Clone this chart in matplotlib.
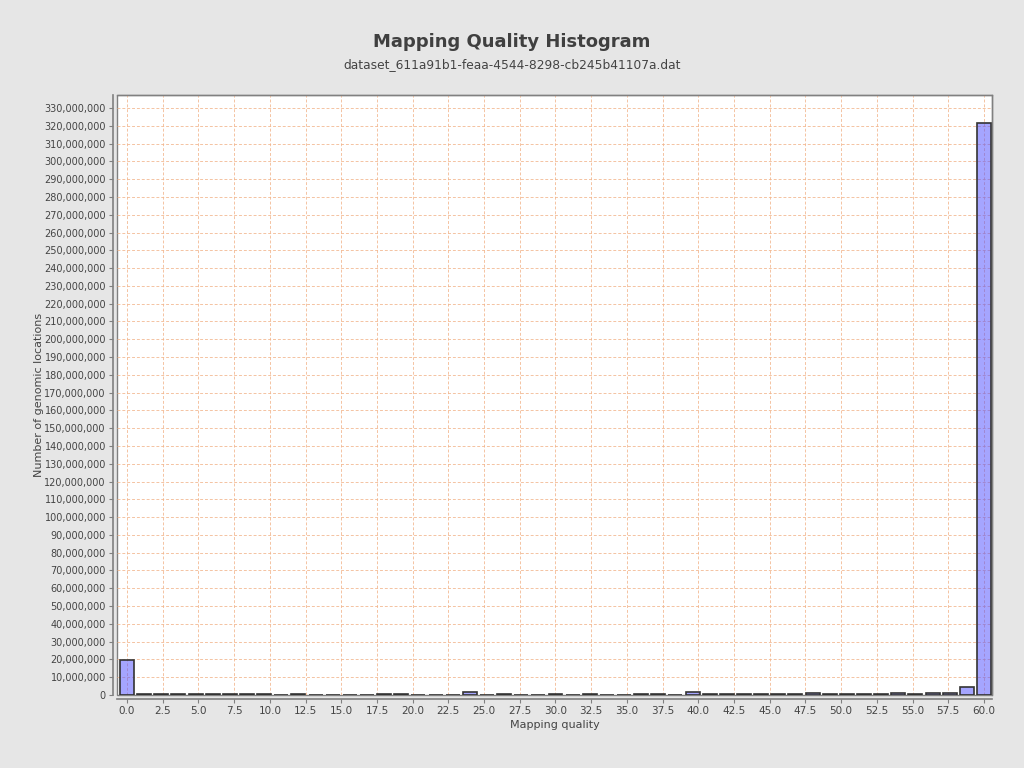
import matplotlib
matplotlib.use("Agg")
import matplotlib.pyplot as plt
from matplotlib.ticker import MultipleLocator, FuncFormatter


# bin positions (mapping quality) and counts in millions
mq_bins = [0.0, 1.2, 2.4, 3.6, 4.8, 6.0, 7.2, 8.4, 9.6, 10.8,
           12.0, 13.2, 14.4, 15.6, 16.8, 18.0, 19.2, 20.4, 21.6, 22.8,
           24.0, 25.2, 26.4, 27.6, 28.8, 30.0, 31.2, 32.4, 33.6, 34.8,
           36.0, 37.2, 38.4, 39.6, 40.8, 42.0, 43.2, 44.4, 45.6, 46.8,
           48.0, 49.2, 50.4, 51.6, 52.8, 54.0, 55.2, 56.4, 57.6, 58.8,
           60.0]
counts_m = [19.7, 0.8, 0.8, 0.8, 0.8, 0.8, 0.8, 0.8, 0.8, 0.1,
            0.8, 0.1, 0.1, 0.1, 0.1, 0.8, 0.8, 0.1, 0.1, 0.1,
            1.5, 0.1, 0.8, 0.1, 0.1, 0.8, 0.1, 0.8, 0.1, 0.1,
            0.8, 0.8, 0.1, 1.5, 0.8, 0.8, 0.8, 0.8, 0.8, 0.8,
            1.3, 0.8, 0.8, 0.8, 0.8, 1.3, 0.8, 1.3, 1.3, 4.4,
            321.5]

title = "Mapping Quality Histogram"
subtitle = "dataset_611a91b1-feaa-4544-8298-cb245b41107a.dat"

counts = [c * 1e6 for c in counts_m]

BG = '#e6e6e6'
TXT = '#444444'

fig = plt.figure(figsize=(10.24, 7.68), dpi=100, facecolor=BG)
ax = fig.add_axes([117 / 1024, 1 - 695 / 768, (992 - 117) / 1024, (695 - 95) / 768])
ax.set_facecolor('white')

ax.bar(mq_bins, counts, width=0.98, color=(0.3, 0.3, 1.0, 0.5),
       edgecolor='#333333', linewidth=1.2, zorder=3)

ax.set_xlim(-0.7, 60.56)
ax.set_ylim(0, 337.3e6)

ax.xaxis.set_major_locator(MultipleLocator(2.5))
ax.yaxis.set_major_locator(MultipleLocator(10e6))
ax.xaxis.set_major_formatter(FuncFormatter(lambda v, p: "%.1f" % v))
ax.yaxis.set_major_formatter(FuncFormatter(lambda v, p: "{:,}".format(int(round(v)))))

ax.set_axisbelow(True)
ax.grid(True, color='#f2b48a', linestyle=(0, (3, 2)), linewidth=0.7, alpha=0.8)

for s in ['top', 'right']:
    ax.spines[s].set_color('#808080')
    ax.spines[s].set_linewidth(1.0)
for s in ['left', 'bottom']:
    ax.spines[s].set_position(('outward', 3))
    ax.spines[s].set_color('#808080')
    ax.spines[s].set_linewidth(1.2)
ax.patch.set_edgecolor('#808080')
ax.patch.set_linewidth(1.0)

ax.tick_params(axis='both', colors='#808080', labelcolor=TXT, labelsize=7,
               length=3, width=0.8, direction='out', pad=2)
ax.tick_params(axis='x', labelsize=7.5)

ax.set_xlabel("Mapping quality", fontsize=8, color=TXT, labelpad=3)
ax.set_ylabel("Number of genomic locations", fontsize=8, color=TXT, labelpad=0)

fig.text(0.5, 1 - 42 / 768, title, ha='center', va='center',
         fontsize=13, fontweight='bold', color='#404040')
fig.text(0.5, 1 - 65 / 768, subtitle, ha='center', va='center',
         fontsize=8.8, color=TXT)

fig.savefig("out.png", dpi=100, facecolor=BG)
